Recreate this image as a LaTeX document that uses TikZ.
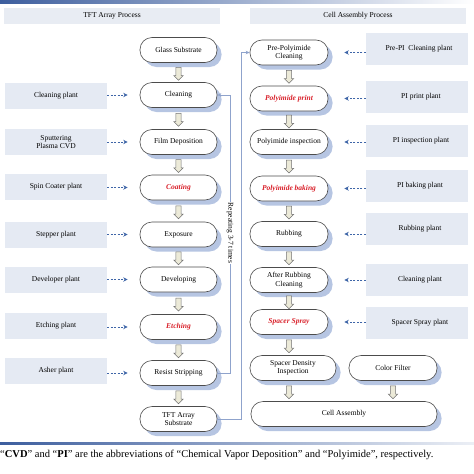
\documentclass[tikz,border=0pt]{standalone}
\usepackage{fontspec}
\setmainfont{Liberation Serif}
\usetikzlibrary{shapes.arrows,shadows,calc,arrows.meta}
\definecolor{hdr}{HTML}{E8ECF3}
\definecolor{plantc}{HTML}{E5EAF3}
\definecolor{shad}{HTML}{B6C5E2}
\definecolor{dashb}{HTML}{3F66A8}
\definecolor{loopc}{HTML}{8FA3CC}
\definecolor{barr}{HTML}{ECEAD8}
\definecolor{redt}{HTML}{D9202A}
\definecolor{topb}{HTML}{3D5E9E}
\newcommand\fsz{\fontsize{7.5}{8.5}\selectfont}
\tikzset{
  hdrbox/.style={fill=hdr, minimum width=216pt, minimum height=16pt, inner sep=0pt, font=\fsz},
  plant/.style={fill=plantc, minimum width=102pt, minimum height=26pt, inner sep=1pt, align=center, font=\fsz},
  rplant/.style={plant, minimum height=32pt},
  proc/.style={draw=black!70, fill=white, rounded corners=12pt, minimum width=77pt, minimum height=25pt,
    inner sep=1pt, align=center, font=\fsz, line width=0.6pt,
    drop shadow={shadow xshift=4.5pt, shadow yshift=-4.5pt, fill=shad, opacity=1}},
  hot/.style={font=\fsz\bfseries\itshape, text=redt},
  dasharr/.style={draw=dashb, line width=0.8pt, dash pattern=on 2pt off 1.5pt, -{Stealth[length=4.5pt,width=4.5pt]}},
  looparr/.style={draw=loopc, line width=0.8pt, -{Stealth[length=4pt,width=3.5pt]}},
  barrow/.style={single arrow, shape border rotate=270, draw=black!55, fill=barr, line width=0.5pt,
    minimum height=13pt, inner sep=2.3pt, single arrow head extend=2.2pt, single arrow tip angle=90},
}
\begin{document}
\begin{tikzpicture}[x=1pt,y=-1pt]
\useasboundingbox (0,0) rectangle (474,474);
\fill[left color=topb, right color=white] (0,0) rectangle (474,3);
\fill[left color=topb, right color=white!90!topb] (0,442) rectangle (474,444);

% headers
\node[hdrbox] (h1) at (112,16) {TFT Array Process};
\node[hdrbox] (h2) at (358,16) {Cell Assembly Process};

% left plants
\node[plant] (lp1) at (56,96) {Cleaning plant};
\node[plant] (lp2) at (56,142) {Sputtering\\Plasma CVD};
\node[plant] (lp3) at (56,186.5) {Spin Coater plant};
\node[plant] (lp4) at (56,234.5) {Stepper plant};
\node[plant] (lp5) at (56,280) {Developer plant};
\node[plant] (lp6) at (56,326) {Etching plant};
\node[plant] (lp7) at (56,371) {Asher plant};

% left processes
\node[proc] (glass) at (178.5,50) {Glass Substrate};
\node[proc] (clean) at (178.5,95) {Cleaning};
\node[proc] (film) at (178.5,142) {Film Deposition};
\node[proc,hot] (coat) at (178.5,187.5) {Coating};
\node[proc] (expo) at (178.5,234.5) {Exposure};
\node[proc] (devel) at (178.5,279.5) {Developing};
\node[proc,hot] (etch) at (178.5,327) {Etching};
\node[proc] (resist) at (178.5,373) {Resist Stripping};
\node[proc] (tft) at (178.5,419) {TFT Array\\Substrate};

% right processes
\node[proc, minimum width=78pt] (pre) at (289,52.5) {Pre-Polyimide\\Cleaning};
\node[proc,hot, minimum width=78pt] (pip) at (289,98.5) {Polyimide print};
\node[proc, minimum width=78pt] (pii) at (289,142) {Polyimide inspection};
\node[proc,hot, minimum width=78pt] (pib) at (289,188.5) {Polyimide baking};
\node[proc, minimum width=78pt] (rub) at (289,234) {Rubbing};
\node[proc, minimum width=78pt] (arc) at (289,280) {After Rubbing\\Cleaning};
\node[proc,hot, minimum width=78pt] (ss) at (289,322) {Spacer Spray};
\node[proc, minimum width=86pt] (sdi) at (293,368) {Spacer Density\\Inspection};
\node[proc, minimum width=88pt] (cf) at (393,368) {Color Filter};
\node[proc, minimum width=186pt] (ca) at (344,414) {Cell Assembly};

% right plants
\node[rplant] (rp1) at (417,49) {\hspace*{4pt}Pre-PI\ \ Cleaning plant};
\node[rplant] (rp2) at (417,97) {\hspace*{8pt}PI print plant};
\node[rplant] (rp3) at (417,140.5) {\hspace*{8pt}PI inspection plant};
\node[rplant] (rp4) at (417,186) {\hspace*{6pt}PI baking plant};
\node[rplant] (rp5) at (417,229) {\hspace*{6pt}Rubbing plant};
\node[rplant] (rp6) at (417,280) {\hspace*{6pt}Cleaning plant};
\node[rplant] (rp7) at (417,322.5) {\hspace*{6pt}Spacer Spray plant};

% dashed arrows left
\foreach \p/\q in {lp1/clean, lp2/film, lp3/coat, lp4/expo, lp5/devel, lp6/etch, lp7/resist}
  \draw[dasharr, shorten >=12pt] (\q.west -| \p.east) -- (\q.west);
% dashed arrows right
\foreach \p/\q in {rp1/pre, rp2/pip, rp3/pii, rp4/pib, rp5/rub, rp6/arc, rp7/ss}
  \draw[dasharr, shorten >=16pt] (\q.east -| \p.west) -- (\q.east);

% block arrows
\foreach \a/\b [count=\i] in {glass/clean, clean/film, film/coat, coat/expo, expo/devel, devel/etch, etch/resist, resist/tft,
  pre/pip, pip/pii, pii/pib, pib/rub, rub/arc, arc/ss}
  \node[barrow] (ba\i) at ($(\a.south)!0.5!(\b.north)$) {};
\node[barrow] (ba15) at ($(ss.south)!0.5!(ss.south |- sdi.north)$) {};
\node[barrow] (ba16) at ($(sdi.south -| ss.south)!0.5!(ca.north -| ss.south)$) {};
\node[barrow] (ba17) at ($(cf.south)!0.5!(ca.north -| cf.south)$) {};

% loops
\coordinate (c1) at (230,373);
\draw[looparr] (resist.east) -- (c1) |- (clean.east);
\node[fill=white, rotate=-90, font=\fsz, inner sep=1pt] (rep) at (230,233) {Repeating 3-7 times};
\coordinate (c2) at (241,419);
\draw[looparr] (tft.east) -- (c2) |- (pre.west);

% caption
\node[anchor=west, inner sep=0pt, font=\fontsize{10.5}{12}\selectfont] (cap) at (0,455)
  {“\textbf{CVD}” and “\textbf{PI}” are the abbreviations of “Chemical Vapor Deposition” and “Polyimide”, respectively.};
\end{tikzpicture}
\end{document}
